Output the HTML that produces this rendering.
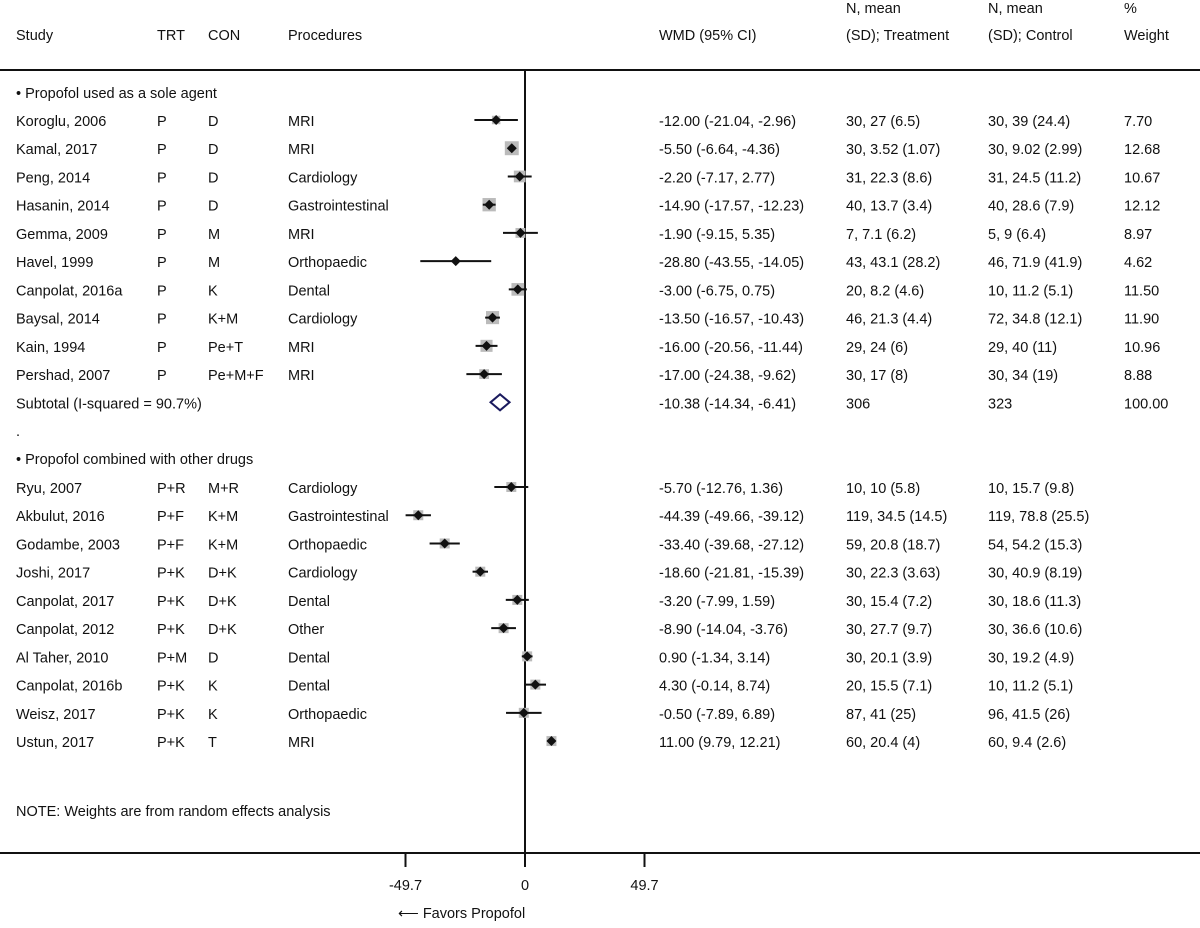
<!DOCTYPE html>
<html><head><meta charset="utf-8"><style>
body{margin:0;background:#fff}
svg text{font-family:"Liberation Sans",Arial,sans-serif;font-size:14.5px;fill:#111}
</style></head><body>
<svg id="plot" width="1200" height="923" xmlns="http://www.w3.org/2000/svg"></svg>
<script>
const studies=["Koroglu, 2006","Kamal, 2017","Peng, 2014","Hasanin, 2014","Gemma, 2009","Havel, 1999","Canpolat, 2016a","Baysal, 2014","Kain, 1994","Pershad, 2007","Ryu, 2007","Akbulut, 2016","Godambe, 2003","Joshi, 2017","Canpolat, 2017","Canpolat, 2012","Al Taher, 2010","Canpolat, 2016b","Weisz, 2017","Ustun, 2017"];
const trt=["P","P","P","P","P","P","P","P","P","P","P+R","P+F","P+F","P+K","P+K","P+K","P+M","P+K","P+K","P+K"];
const con=["D","D","D","D","M","M","K","K+M","Pe+T","Pe+M+F","M+R","K+M","K+M","D+K","D+K","D+K","D","K","K","T"];
const procs=["MRI","MRI","Cardiology","Gastrointestinal","MRI","Orthopaedic","Dental","Cardiology","MRI","MRI","Cardiology","Gastrointestinal","Orthopaedic","Cardiology","Dental","Other","Dental","Dental","Orthopaedic","MRI"];
const est=[-12.00,-5.50,-2.20,-14.90,-1.90,-28.80,-3.00,-13.50,-16.00,-17.00,-5.70,-44.39,-33.40,-18.60,-3.20,-8.90,0.90,4.30,-0.50,11.00];
const lo=[-21.04,-6.64,-7.17,-17.57,-9.15,-43.55,-6.75,-16.57,-20.56,-24.38,-12.76,-49.66,-39.68,-21.81,-7.99,-14.04,-1.34,-0.14,-7.89,9.79];
const hi=[-2.96,-4.36,2.77,-12.23,5.35,-14.05,0.75,-10.43,-11.44,-9.62,1.36,-39.12,-27.12,-15.39,1.59,-3.76,3.14,8.74,6.89,12.21];
const trtStats=["30, 27 (6.5)","30, 3.52 (1.07)","31, 22.3 (8.6)","40, 13.7 (3.4)","7, 7.1 (6.2)","43, 43.1 (28.2)","20, 8.2 (4.6)","46, 21.3 (4.4)","29, 24 (6)","30, 17 (8)","10, 10 (5.8)","119, 34.5 (14.5)","59, 20.8 (18.7)","30, 22.3 (3.63)","30, 15.4 (7.2)","30, 27.7 (9.7)","30, 20.1 (3.9)","20, 15.5 (7.1)","87, 41 (25)","60, 20.4 (4)"];
const conStats=["30, 39 (24.4)","30, 9.02 (2.99)","31, 24.5 (11.2)","40, 28.6 (7.9)","5, 9 (6.4)","46, 71.9 (41.9)","10, 11.2 (5.1)","72, 34.8 (12.1)","29, 40 (11)","30, 34 (19)","10, 15.7 (9.8)","119, 78.8 (25.5)","54, 54.2 (15.3)","30, 40.9 (8.19)","30, 18.6 (11.3)","30, 36.6 (10.6)","30, 19.2 (4.9)","10, 11.2 (5.1)","96, 41.5 (26)","60, 9.4 (2.6)"];
const weights=[7.70,12.68,10.67,12.12,8.97,4.62,11.50,11.90,10.96,8.88,null,null,null,null,null,null,null,null,null,null];
const subtotal=[-10.38,-14.34,-6.41];
const ticks=[-49.7,0,49.7];

const svg=document.getElementById('plot');
const NS='http://www.w3.org/2000/svg';
const x0=525,scale=119.5/49.7;
const X=v=>x0+v*scale;
const rowY=i=>120+i*28.23;
const cx={study:16,trt:157,con:208,proc:288,wmd:659,tr:846,ct:988,wt:1124};
function el(tag,attrs,parent){const e=document.createElementNS(NS,tag);for(const k in attrs)e.setAttribute(k,attrs[k]);(parent||svg).appendChild(e);return e;}
function txt(x,y,s,name,extra){const t=el('text',Object.assign({x:x,y:y},extra||{}));t.textContent=s;


return t;}

txt(cx.study,40,"Study","header-study");txt(cx.trt,40,"TRT","header-trt");txt(cx.con,40,"CON","header-con");txt(cx.proc,40,"Procedures","header-procedures");
txt(cx.wmd,40,"WMD (95% CI)","header-wmd");txt(cx.tr,13,"N, mean","header-treatment-1");txt(cx.tr,40,"(SD); Treatment","header-treatment-2");
txt(cx.ct,13,"N, mean","header-control-1");txt(cx.ct,40,"(SD); Control","header-control-2");txt(cx.wt,13,"%","header-weight-1");txt(cx.wt,40,"Weight","header-weight-2");
let l=el('line',{x1:0,y1:70,x2:1200,y2:70,stroke:'#111','stroke-width':2});


l=el('line',{x1:0,y1:853,x2:1200,y2:853,stroke:'#111','stroke-width':2});


l=el('line',{x1:X(0),y1:70,x2:X(0),y2:853,stroke:'#111','stroke-width':2});



txt(16,98,"• Propofol used as a sole agent","group-1-header");
txt(16,436,".","spacer-dot");
txt(16,464,"• Propofol combined with other drugs","group-2-header");
txt(16,816,"NOTE: Weights are from random effects analysis","note");

studies.forEach((s,k)=>{
  const i=k<10?k:k+3;const y=rowY(i);
  txt(cx.study,y+6,s,'study-name');txt(cx.trt,y+6,trt[k],'trt-label');txt(cx.con,y+6,con[k],'con-label');txt(cx.proc,y+6,procs[k],'procedure-label');
  txt(cx.wmd,y+6,est[k].toFixed(2)+" ("+lo[k].toFixed(2)+", "+hi[k].toFixed(2)+")",'wmd-ci-text');
  txt(cx.tr,y+6,trtStats[k],'treatment-stats');txt(cx.ct,y+6,conStats[k],'control-stats');
  if(weights[k]!==null)txt(cx.wt,y+6,weights[k].toFixed(2),'weight-text');
  const sz=weights[k]!==null?weights[k]*1.1:10;
  const b=el('rect',{x:X(est[k])-sz/2,y:y-sz/2,width:sz,height:sz,fill:'#bbb'});
  
  
  const c=el('line',{x1:X(lo[k]),y1:y,x2:X(hi[k]),y2:y,stroke:'#111','stroke-width':2});
  
  
  const ex=X(est[k]);
  const d=el('polygon',{points:`${ex-5},${y} ${ex},${y-5} ${ex+5},${y} ${ex},${y+5}`,fill:'#111'});
  
  
});
const sy=rowY(10);
txt(16,sy+6,"Subtotal  (I-squared = 90.7%)","subtotal-label");
txt(cx.wmd,sy+6,subtotal[0].toFixed(2)+" ("+subtotal[1].toFixed(2)+", "+subtotal[2].toFixed(2)+")","subtotal-wmd");
txt(cx.tr,sy+6,"306","subtotal-treatment-n");txt(cx.ct,sy+6,"323","subtotal-control-n");txt(cx.wt,sy+6,"100.00","subtotal-weight");
const dm=el('polygon',{points:`${X(subtotal[1])},${sy} ${X(subtotal[0])},${sy-8} ${X(subtotal[2])},${sy} ${X(subtotal[0])},${sy+8}`,fill:'none',stroke:'#1a1a5e','stroke-width':2});



ticks.forEach(t=>{
  const tl=el('line',{x1:X(t),y1:853,x2:X(t),y2:867,stroke:'#111','stroke-width':2});
  
  
  txt(X(t),890,String(t),'x-tick-label',{'text-anchor':'middle'});
});
txt(398,918,"⟵ Favors Propofol","favors-label");
</script>
</body></html>
